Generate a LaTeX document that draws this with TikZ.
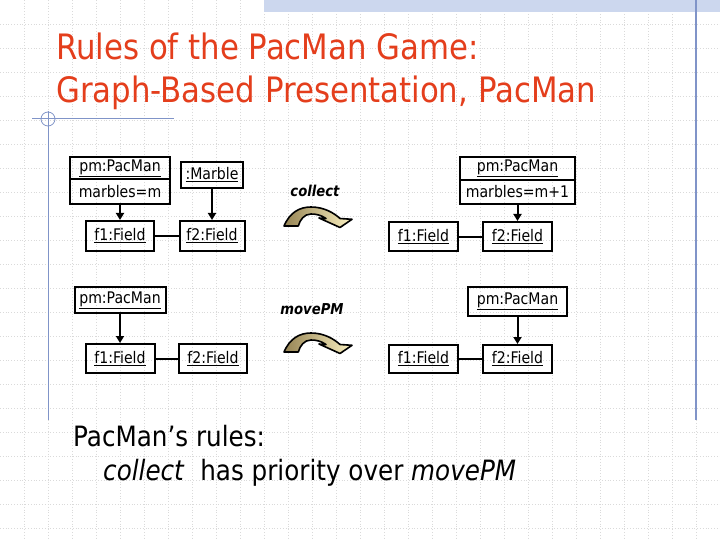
\documentclass[tikz,border=0pt]{standalone}
\usepackage{fontspec}
\setmainfont{DejaVu Sans}[FakeStretch=0.88]
\usetikzlibrary{arrows.meta}
\definecolor{titlered}{RGB}{228,62,28}
\definecolor{frameblue}{RGB}{128,148,200}
\definecolor{bandblue}{RGB}{204,215,238}
\definecolor{griddot}{RGB}{218,218,218}
\definecolor{arrowdark}{RGB}{150,132,84}
\definecolor{arrowlight}{RGB}{250,240,192}
\tikzset{
  obj/.style={draw, line width=2pt, inner sep=0pt, font=\fontsize{16}{18}\selectfont},
  link/.style={line width=2pt},
  reach/.style={line width=2pt, -{Triangle[length=7pt,width=8pt]}},
  rulename/.style={font=\fontsize{15}{18}\selectfont\bfseries\itshape},
  gridline/.style={griddot, dotted, line width=0.8pt},
  pics/rulearrow/.style={code={
    \draw[line width=1.6pt, line join=round, left color=arrowdark, right color=arrowlight]
      (0,0) .. controls (6,-14) and (16,-19) .. (27,-19)
      .. controls (40,-19) and (50,-13) .. (56,-7.5) -- (68,-6.7) -- (56,1.5) -- (35,-8) -- (42,-7.5)
      .. controls (37,-11) and (32,-12) .. (27,-12)
      .. controls (20,-12) and (16,-6) .. (14.3,0) -- cycle;
  }}
}
\begin{document}
\begin{tikzpicture}[x=1pt, y=-1pt]
\useasboundingbox (0,0) rectangle (720,540);
\fill[white] (0,0) rectangle (720,540);
% slide background
\foreach \g in {24,48,...,696} \draw[gridline] (\g,0) -- (\g,540);
\foreach \g in {24,48,...,528} \draw[gridline] (0,\g) -- (720,\g);
\fill[bandblue] (264,0) rectangle (720,12);
\draw[frameblue, line width=1.2pt] (696,0) -- (696,420);
\draw[frameblue, line width=1pt] (32,119) -- (174,119) (48,111) -- (48,420);
\draw[frameblue, line width=0.8pt] (48,119) circle (7);
% title
\node[anchor=base west, text=titlered, font=\fontsize{35}{43}\selectfont, inner sep=0pt] (title1) at (56,60) {Rules of the PacMan Game:};
\node[anchor=base west, text=titlered, font=\fontsize{35}{43}\selectfont, inner sep=0pt] (title2) at (56,103) {Graph-Based Presentation, PacMan};
% rule collect, left side
\node[obj, minimum width=100pt, minimum height=22pt] (lhsPm) at (120,168) {\underline{pm:PacMan}};
\node[obj, minimum width=100pt, minimum height=25pt] (lhsPmAttr) at (120,191.5) {marbles=m};
\node[obj, minimum width=62pt, minimum height=26pt] (lhsMarble) at (212,175) {\underline{:Marble}};
\node[obj, minimum width=68pt, minimum height=30pt] (lhsF1) at (120,236) {\underline{f1:Field}};
\node[obj, minimum width=65pt, minimum height=30pt] (lhsF2) at (212,236) {\underline{f2:Field}};
\draw[reach] (lhsPmAttr) -- (lhsF1);
\draw[reach] (lhsMarble) -- (lhsF2);
\draw[link] (lhsF1) -- (lhsF2);
% rule collect, right side
\node[obj, minimum width=115pt, minimum height=23pt] (rhsPm) at (517.5,168.5) {\underline{pm:PacMan}};
\node[obj, minimum width=115pt, minimum height=24pt] (rhsPmAttr) at (517.5,192) {marbles=m+1};
\node[obj, minimum width=69pt, minimum height=29pt] (rhsF1) at (423.5,236.5) {\underline{f1:Field}};
\node[obj, minimum width=69pt, minimum height=29pt] (rhsF2) at (517.5,236.5) {\underline{f2:Field}};
\draw[reach] (rhsPmAttr) -- (rhsF2);
\draw[link] (rhsF1) -- (rhsF2);
\node[rulename] (collectName) at (315,191) {collect};
\pic at (284,226) {rulearrow};
% rule movePM, left side
\node[obj, minimum width=91pt, minimum height=26pt] (mvPm) at (120,300) {\underline{pm:PacMan}};
\node[obj, minimum width=69pt, minimum height=29pt] (mvF1) at (120,358.5) {\underline{f1:Field}};
\node[obj, minimum width=68pt, minimum height=29pt] (mvF2) at (213,358.5) {\underline{f2:Field}};
\draw[reach] (mvPm) -- (mvF1);
\draw[link] (mvF1) -- (mvF2);
% rule movePM, right side
\node[obj, minimum width=99pt, minimum height=29pt] (mvRPm) at (517.5,301.5) {\underline{pm:PacMan}};
\node[obj, minimum width=69pt, minimum height=28pt] (mvRF1) at (423.5,359) {\underline{f1:Field}};
\node[obj, minimum width=69pt, minimum height=28pt] (mvRF2) at (517.5,359) {\underline{f2:Field}};
\draw[reach] (mvRPm) -- (mvRF2);
\draw[link] (mvRF1) -- (mvRF2);
\node[rulename] (moveName) at (312,309) {movePM};
\pic at (284,352) {rulearrow};
% priority text
\node[anchor=base west, inner sep=0pt, font=\fontsize{28}{34}\selectfont] (rulesHead) at (73,446) {PacMan’s rules:};
\node[anchor=base west, inner sep=0pt, font=\fontsize{28}{34}\selectfont] (rulesPrio) at (103,480) {\textit{collect}\ \ has priority over \textit{movePM}};
\end{tikzpicture}
\end{document}
